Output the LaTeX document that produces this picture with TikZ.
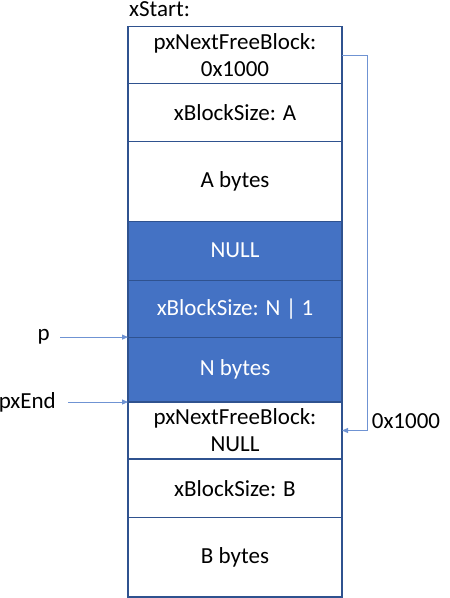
\documentclass[tikz,border=0pt]{standalone}
\usepackage{fontspec}
\setmainfont{Carlito}
\usetikzlibrary{arrows.meta}
\definecolor{cellblue}{HTML}{4472C4}
\definecolor{celledge}{HTML}{2F528F}
\definecolor{linkblue}{HTML}{6F93D3}
\begin{document}
\begin{tikzpicture}[
  x=1pt, y=-1pt,
  font=\fontsize{23}{27}\selectfont,
  mem cell/.style={draw=celledge, line width=1.1pt, fill=white, minimum width=214pt,
    inner sep=0pt, outer sep=0pt, align=center},
  used cell/.style={mem cell, fill=cellblue, text=white},
  ptr label/.style={inner sep=0pt},
  ptr edge/.style={draw=linkblue, line width=0.9pt, -{Triangle[length=6pt,width=5pt]}}
]
\useasboundingbox (0,0) rectangle (450,598);
\node[mem cell, minimum height=57pt] (nfA) at (235, 55.0) {pxNextFreeBlock:\\0x1000};
\node[mem cell, minimum height=58pt] (szA) at (235, 112.3) {xBlockSize: A};
\node[mem cell, minimum height=80pt] (dataA) at (235, 181.2) {A bytes};
\node[used cell, minimum height=59pt] (nfN) at (235, 250.6) {NULL};
\node[used cell, minimum height=57pt] (szN) at (235, 308.7) {xBlockSize: N | 1};
\node[used cell, minimum height=65pt] (dataN) at (235, 369.6) {N bytes};
\node[mem cell, minimum height=57pt] (nfB) at (235, 430.5) {pxNextFreeBlock:\\NULL};
\node[mem cell, minimum height=58.5pt] (szB) at (235, 488.2) {xBlockSize: B};
\node[mem cell, minimum height=79.5pt] (dataB) at (235, 557.2) {B bytes};
\node[ptr label, anchor=base west] (start) at (129, 16) {xStart:};
\node[ptr label, anchor=east] (pLbl) at (50, 337.1) {p};
\node[ptr label, anchor=east] (endLbl) at (56, 402.0) {pxEnd};
\node[ptr label] (addr) at (406, 421) {0x1000};
\draw[ptr edge] (pLbl.east) ++(10,0) -- (dataN.north west);
\draw[ptr edge] (endLbl.east) ++(12,0) -- (nfB.north west);
\draw[ptr edge] (nfA.east) -- ++(25,0) |- (nfB.east);
\end{tikzpicture}
\end{document}
